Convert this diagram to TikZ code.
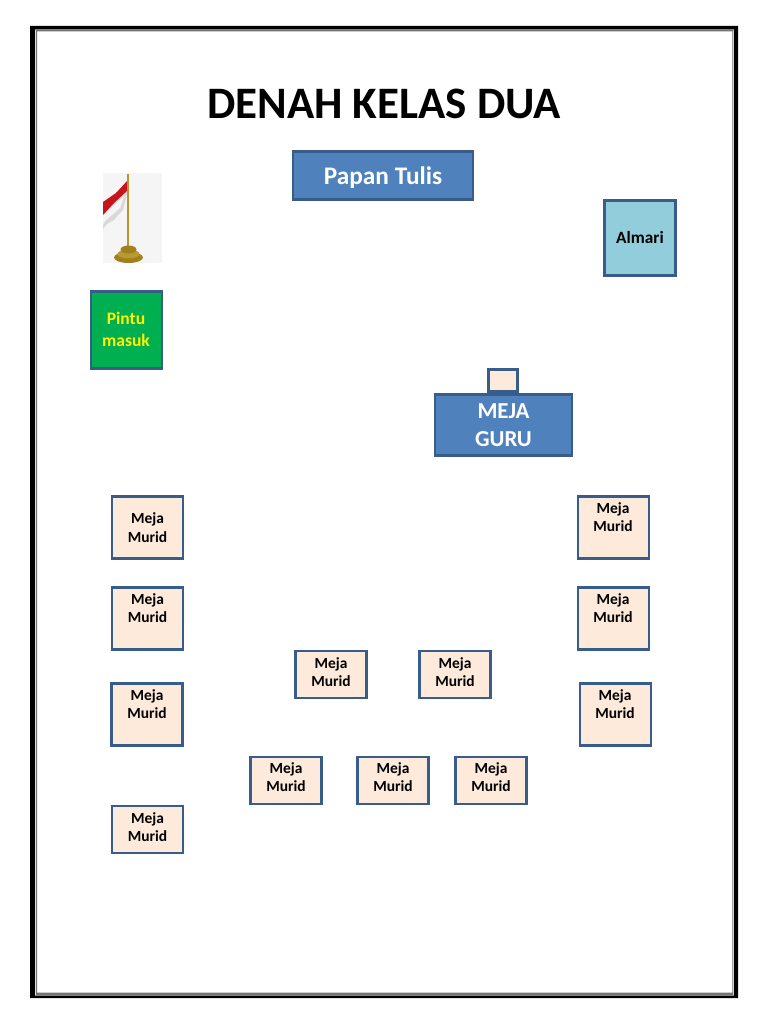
\documentclass[tikz,border=0pt]{standalone}
\usepackage{fontspec}
\setmainfont{Carlito}
\usetikzlibrary{positioning}
\definecolor{deskfill}{HTML}{FDEADA}
\definecolor{boxline}{HTML}{385D8A}
\definecolor{boardfill}{HTML}{4F81BD}
\definecolor{cupboardfill}{HTML}{92CDDC}
\definecolor{doorfill}{HTML}{00B050}
\definecolor{flagred}{HTML}{C4161C}
\definecolor{flagshade}{HTML}{D9D9D9}
\definecolor{goldpole}{HTML}{B8962A}
\definecolor{goldbase}{HTML}{A07F1C}
\definecolor{goldlight}{HTML}{B99A30}
\tikzset{
  plainbox/.style={draw=boxline, line width=1.3pt, inner sep=0pt},
  deskbox/.style={plainbox, fill=deskfill, minimum width=1.42cm, minimum height=1.24cm},
  lowbox/.style={deskbox, minimum height=0.93cm},
  desktext/.style={align=center, font=\fontsize{8.8}{10.5}\selectfont\bfseries},
  bluebox/.style={plainbox, fill=boardfill, text=white, align=center}
}
\begin{document}
\begin{tikzpicture}[x=0.02cm, y=-0.02cm, line join=miter]
        \useasboundingbox (0,0) rectangle (768,1024);
        \fill[white] (0,0) rectangle (768,1024);

        % Page frame
        \fill[even odd rule] (30,26) rectangle (738,998) (35,29.5) rectangle (733.8,995.5);
        \fill[black!55, even odd rule] (36,29.5) rectangle (733,995.5) (37,31.5) rectangle (732.3,992.5);

        % Title
        \node[font=\fontsize{25.6}{28}\selectfont\bfseries] (title) at (384,104) {DENAH KELAS DUA};

        % Board and cupboard
        \node[bluebox, minimum width=3.6cm, minimum height=0.96cm] (board) at (383,175.5) {};
        \node[text=white, font=\fontsize{14.4}{17}\selectfont\bfseries] (boardtext) at (383,178) {Papan Tulis};
        \node[plainbox, fill=cupboardfill, minimum width=1.42cm, minimum height=1.5cm, font=\fontsize{9.8}{12}\selectfont\bfseries] (cupboard) at (640,238) {Almari};

        % Flag
        \fill[black!4] (103,173) rectangle (162,263);
        \fill[flagshade] (103,213) -- (127.5,190) -- (126,198) -- (123,210) -- (119,214) -- (114,220) -- (107,224) -- (103,229) -- cycle;
        \fill[white!96!black] (103,215) -- (124,196) -- (120,208) -- (113,214) -- (106,220) -- (103,224) -- cycle;
        \fill[flagred] (103,202) -- (116,193) -- (128,180) -- (128,190) -- (114,203) -- (103,215) -- cycle;
        \fill[goldpole] (127,174) rectangle (129.3,246);
        \fill[goldbase] (128.5,257.5) ellipse (14.5 and 5.5);
        \fill[goldlight] (128.5,254) ellipse (11 and 4.5);
        \fill[goldbase] (128.5,249.5) ellipse (8 and 4);

        % Door
        \node[plainbox, fill=doorfill, minimum width=1.42cm, minimum height=1.54cm] (door) at (126.5,330) {};
        \node[align=center, text=yellow, font=\fontsize{10}{12.5}\selectfont\bfseries] (doortext) at (126,329) {Pintu\\masuk};

        % Teacher
        \node[plainbox, fill=deskfill, minimum width=0.58cm, minimum height=0.44cm] (chair) at (503,380.5) {};
        \node[bluebox, minimum width=2.74cm, minimum height=1.22cm, font=\fontsize{13}{16}\selectfont\bfseries] (teacher) at (503.5,425) {MEJA\\GURU};

        % Left column
        \node[deskbox] (deska) at (147.5,527.5) {};
        \node[desktext] (texta) at (147.5,527.5) {Meja\\Murid};
        \node[deskbox] (deskb) at (147.5,618.5) {};
        \node[desktext] (textb) at (147.5,608) {Meja\\Murid};
        \node[deskbox] (deskc) at (147,714.5) {};
        \node[desktext] (textc) at (147,704) {Meja\\Murid};
        \node[lowbox] (deskd) at (147.5,829.5) {};
        \node[desktext] (textd) at (147.5,827) {Meja\\Murid};

        % Right column
        \node[deskbox] (deske) at (613.5,527.5) {};
        \node[desktext] (texte) at (613,517) {Meja\\Murid};
        \node[deskbox] (deskf) at (613.5,618.5) {};
        \node[desktext] (textf) at (613,608) {Meja\\Murid};
        \node[deskbox] (deskg) at (615.5,714.5) {};
        \node[desktext] (textg) at (615,704) {Meja\\Murid};

        % Middle rows
        \node[lowbox] (deskh) at (331,674.5) {};
        \node[desktext] (texth) at (331,672) {Meja\\Murid};
        \node[lowbox] (deski) at (455,674.5) {};
        \node[desktext] (texti) at (455,672) {Meja\\Murid};
        \node[lowbox] (deskj) at (286,780.5) {};
        \node[desktext] (textj) at (286,777) {Meja\\Murid};
        \node[lowbox] (deskk) at (393,780.5) {};
        \node[desktext] (textk) at (393,777) {Meja\\Murid};
        \node[lowbox] (deskl) at (491,780.5) {};
        \node[desktext] (textl) at (491,777) {Meja\\Murid};
\end{tikzpicture}
\end{document}
